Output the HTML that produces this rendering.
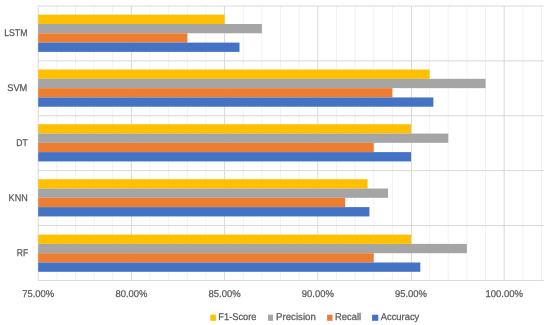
<!DOCTYPE html>
<html><head><meta charset="utf-8"><title>Chart</title>
<style>html,body{margin:0;padding:0;background:#fff;overflow:hidden}svg{display:block}</style>
</head><body>
<svg width="550" height="325" viewBox="0 0 550 325">
<rect width="550" height="325" fill="#fff"/>
<path d="M56.84 6.0V280.45M75.48 6.0V280.45M94.12 6.0V280.45M112.76 6.0V280.45M150.04 6.0V280.45M168.68 6.0V280.45M187.32 6.0V280.45M205.96 6.0V280.45M243.24 6.0V280.45M261.88 6.0V280.45M280.52 6.0V280.45M299.16 6.0V280.45M336.44 6.0V280.45M355.08 6.0V280.45M373.72 6.0V280.45M392.36 6.0V280.45M429.64 6.0V280.45M448.28 6.0V280.45M466.92 6.0V280.45M485.56 6.0V280.45M522.84 6.0V280.45M541.48 6.0V280.45" stroke="#F2F2F2" stroke-width="1" fill="none"/>
<path d="M38.20 6.0V280.45M131.40 6.0V280.45M224.60 6.0V280.45M317.80 6.0V280.45M411.50 6.0V280.45M504.20 6.0V280.45M38.2 6.00H543.8M38.2 60.89H543.8M38.2 115.78H543.8M38.2 170.67H543.8M38.2 225.56H543.8M38.2 280.45H543.8" stroke="#D9D9D9" stroke-width="1" fill="none"/>
<rect x="38.2" y="14.69" width="186.40" height="9.3" fill="#FFC000"/>
<rect x="38.2" y="23.99" width="223.68" height="9.3" fill="#A5A5A5"/>
<rect x="38.2" y="33.30" width="149.12" height="9.3" fill="#ED7D31"/>
<rect x="38.2" y="42.59" width="201.31" height="9.3" fill="#4472C4"/>
<rect x="38.2" y="69.53" width="391.44" height="9.3" fill="#FFC000"/>
<rect x="38.2" y="78.83" width="447.36" height="9.3" fill="#A5A5A5"/>
<rect x="38.2" y="88.13" width="354.16" height="9.3" fill="#ED7D31"/>
<rect x="38.2" y="97.44" width="395.17" height="9.3" fill="#4472C4"/>
<rect x="38.2" y="124.22" width="372.80" height="9.3" fill="#FFC000"/>
<rect x="38.2" y="133.53" width="410.08" height="9.3" fill="#A5A5A5"/>
<rect x="38.2" y="142.82" width="335.52" height="9.3" fill="#ED7D31"/>
<rect x="38.2" y="152.12" width="372.80" height="9.3" fill="#4472C4"/>
<rect x="38.2" y="179.22" width="329.37" height="9.3" fill="#FFC000"/>
<rect x="38.2" y="188.52" width="349.87" height="9.3" fill="#A5A5A5"/>
<rect x="38.2" y="197.81" width="307.00" height="9.3" fill="#ED7D31"/>
<rect x="38.2" y="207.12" width="331.23" height="9.3" fill="#4472C4"/>
<rect x="38.2" y="234.60" width="372.80" height="9.3" fill="#FFC000"/>
<rect x="38.2" y="243.91" width="428.72" height="9.3" fill="#A5A5A5"/>
<rect x="38.2" y="253.20" width="335.52" height="9.3" fill="#ED7D31"/>
<rect x="38.2" y="262.50" width="382.12" height="9.3" fill="#4472C4"/>
<g font-family="'Liberation Sans', sans-serif" font-size="9.8" fill="#595959" text-rendering="geometricPrecision" stroke="#595959" stroke-width="0.25">
<text x="4.2" y="35.95" textLength="23.2" lengthAdjust="spacingAndGlyphs">LSTM</text>
<text x="7.2" y="90.84" textLength="20.2" lengthAdjust="spacingAndGlyphs">SVM</text>
<text x="16.3" y="145.72" textLength="11.4" lengthAdjust="spacingAndGlyphs">DT</text>
<text x="8.6" y="200.62" textLength="19.1" lengthAdjust="spacingAndGlyphs">KNN</text>
<text x="16.8" y="255.50" textLength="11.4" lengthAdjust="spacingAndGlyphs">RF</text>
<text x="38.20" y="297.1" text-anchor="middle" font-size="9.8" textLength="32" lengthAdjust="spacingAndGlyphs">75.00%</text>
<text x="131.40" y="297.1" text-anchor="middle" font-size="9.8" textLength="32" lengthAdjust="spacingAndGlyphs">80.00%</text>
<text x="224.60" y="297.1" text-anchor="middle" font-size="9.8" textLength="32" lengthAdjust="spacingAndGlyphs">85.00%</text>
<text x="317.80" y="297.1" text-anchor="middle" font-size="9.8" textLength="32" lengthAdjust="spacingAndGlyphs">90.00%</text>
<text x="411.00" y="297.1" text-anchor="middle" font-size="9.8" textLength="32" lengthAdjust="spacingAndGlyphs">95.00%</text>
<text x="504.20" y="297.1" text-anchor="middle" font-size="9.8" textLength="37.6" lengthAdjust="spacingAndGlyphs">100.00%</text>
<rect x="210.3" y="314.7" width="5.6" height="6.1" fill="#FFC000" stroke="none"/>
<text x="218.3" y="319.9" textLength="38.2" lengthAdjust="spacingAndGlyphs">F1-Score</text>
<rect x="268.0" y="314.7" width="5.1" height="6.1" fill="#A5A5A5" stroke="none"/>
<text x="276.0" y="319.9" textLength="39.8" lengthAdjust="spacingAndGlyphs">Precision</text>
<rect x="327.1" y="314.7" width="5.4" height="6.1" fill="#ED7D31" stroke="none"/>
<text x="335.1" y="319.9" textLength="26.0" lengthAdjust="spacingAndGlyphs">Recall</text>
<rect x="372.1" y="314.7" width="6.2" height="6.1" fill="#4472C4" stroke="none"/>
<text x="380.7" y="319.9" textLength="38.6" lengthAdjust="spacingAndGlyphs">Accuracy</text>
</g></svg>
</body></html>
